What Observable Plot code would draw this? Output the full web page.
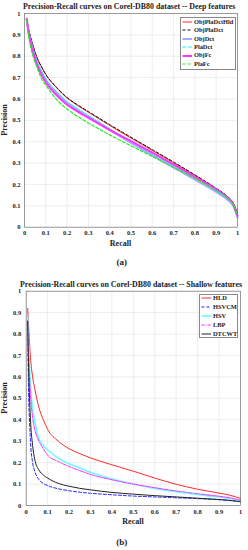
<!DOCTYPE html>
<html><head><meta charset="utf-8">
<script src="https://cdn.jsdelivr.net/npm/d3@7"></script>
<script src="https://cdn.jsdelivr.net/npm/@observablehq/plot@0.6"></script>
<style>
body{margin:0;background:#fff;}
#root{position:relative;width:248px;height:550px;overflow:hidden;font-family:"Liberation Serif",serif;font-weight:bold;color:#222;}
.abs{position:absolute;white-space:nowrap;}
.title{font-size:7.9px;line-height:1;}
.lab{font-size:8px;line-height:1;}
.cap{font-size:9px;line-height:1;}
.legend{position:absolute;background:#fff;border:0.6px solid #888;box-sizing:border-box;}
.legend .row{position:absolute;left:0;height:8px;display:flex;align-items:center;font-size:6.4px;line-height:1;}
svg.plot{position:absolute;left:0;}
</style></head><body><div id="root"></div>
<script>
// ---------- Data: (a) Deep features ----------
const recallDeep = [0.01, 0.02, 0.04, 0.06, 0.08, 0.1, 0.15, 0.2, 0.25, 0.3, 0.4, 0.5, 0.6, 0.7, 0.8, 0.9, 0.95, 0.98, 1.0];
const deepNames = ["ObjPlaDctHld", "ObjPlaDct", "ObjDct", "PlaDct", "ObjFc", "PlaFc"];
const ObjPlaDctHld = [0.975, 0.925, 0.85, 0.79, 0.75, 0.714, 0.653, 0.604, 0.569, 0.538, 0.476, 0.417, 0.359, 0.301, 0.242, 0.180, 0.145, 0.113, 0.068];
const ObjPlaDct    = [0.975, 0.925, 0.85, 0.79, 0.75, 0.715, 0.655, 0.607, 0.572, 0.541, 0.480, 0.421, 0.363, 0.305, 0.245, 0.182, 0.146, 0.113, 0.062];
const ObjDct       = [0.975, 0.912, 0.83, 0.766, 0.724, 0.689, 0.628, 0.581, 0.547, 0.516, 0.454, 0.394, 0.336, 0.279, 0.223, 0.165, 0.131, 0.099, 0.045];
const PlaDct       = [0.975, 0.915, 0.835, 0.772, 0.73, 0.695, 0.635, 0.588, 0.554, 0.523, 0.461, 0.401, 0.343, 0.286, 0.229, 0.170, 0.136, 0.104, 0.050];
const ObjFc        = [0.975, 0.905, 0.82, 0.756, 0.712, 0.678, 0.618, 0.573, 0.541, 0.512, 0.455, 0.403, 0.349, 0.293, 0.236, 0.177, 0.142, 0.108, 0.055];
const PlaFc        = [0.97, 0.89, 0.80, 0.745, 0.695, 0.665, 0.598, 0.553, 0.518, 0.488, 0.432, 0.381, 0.331, 0.280, 0.228, 0.172, 0.138, 0.106, 0.055];

// ---------- Data: (b) Shallow features ----------
const recallShallow = [0.007, 0.01, 0.02, 0.03, 0.04, 0.06, 0.08, 0.1, 0.15, 0.2, 0.25, 0.3, 0.4, 0.5, 0.6, 0.7, 0.8, 0.9, 0.95, 1.0];
const shallowNames = ["HLD", "HSVCM", "HSV", "LBP", "DTCWT"];
const HLD   = [0.92, 0.86, 0.69, 0.60, 0.545, 0.455, 0.40, 0.355, 0.30, 0.265, 0.242, 0.222, 0.19, 0.160, 0.128, 0.099, 0.076, 0.058, 0.048, 0.033];
const HSVCM = [0.85, 0.60, 0.30, 0.20, 0.16, 0.12, 0.103, 0.093, 0.078, 0.069, 0.062, 0.057, 0.050, 0.044, 0.040, 0.036, 0.032, 0.027, 0.023, 0.018];
const HSV   = [0.88, 0.78, 0.56, 0.45, 0.39, 0.31, 0.28, 0.26, 0.22, 0.195, 0.175, 0.155, 0.123, 0.100, 0.080, 0.064, 0.051, 0.040, 0.033, 0.023];
const LBP   = [0.86, 0.74, 0.52, 0.41, 0.355, 0.30, 0.265, 0.235, 0.205, 0.182, 0.163, 0.145, 0.120, 0.100, 0.083, 0.068, 0.055, 0.043, 0.036, 0.025];
const DTCWT = [0.86, 0.70, 0.40, 0.28, 0.215, 0.165, 0.142, 0.128, 0.103, 0.090, 0.080, 0.073, 0.061, 0.053, 0.046, 0.040, 0.034, 0.028, 0.024, 0.018];

const tickValues = [0, 0.1, 0.2, 0.3, 0.4, 0.5, 0.6, 0.7, 0.8, 0.9, 1];

// ---------- Styles ----------
const deepStyles = [
  {stroke: "#ff2a2a", strokeWidth: 1, dash: null},
  {stroke: "#111111", strokeWidth: 1, dash: "3,2"},
  {stroke: "#a9a9ff", strokeWidth: 2, dash: null},
  {stroke: "#00e5ff", strokeWidth: 1, dash: "3,1.2,0.8,1.2"},
  {stroke: "#ff33ff", strokeWidth: 2, dash: null},
  {stroke: "#22ee22", strokeWidth: 1.2, dash: "3,2"}
];
const shallowStyles = [
  {stroke: "#ff2a2a", strokeWidth: 1, dash: null},
  {stroke: "#2222ff", strokeWidth: 1, dash: "3,2"},
  {stroke: "#66ffff", strokeWidth: 1.6, dash: null},
  {stroke: "#ff22ff", strokeWidth: 1, dash: "3,1.2,0.8,1.2"},
  {stroke: "#222222", strokeWidth: 1, dash: null}
];

const root = document.getElementById("root");
const fmt = d => d === 0 ? "0" : d === 1 ? "1" : d.toFixed(1);

function chart({recall, names, values, styles, top, height, mt, mb, ml, mr, xPad, yPad}) {
  const marks = [
    Plot.gridX(tickValues, {stroke: "#e3e3e3", strokeOpacity: 1, strokeWidth: 0.6}),
    Plot.gridY(tickValues, {stroke: "#e3e3e3", strokeOpacity: 1, strokeWidth: 0.6}),
    Plot.axisX(tickValues, {tickSize: 0, tickPadding: xPad, tickFormat: fmt, label: null, fill: "#222"}),
    Plot.axisY(tickValues, {tickSize: 0, tickPadding: yPad, tickFormat: fmt, label: null, fill: "#222"})
  ];
  names.forEach((n, k) => {
    const rows = recall.map((r, i) => ({r, p: values[k][i]}));
    const s = styles[k];
    marks.push(Plot.line(rows, {x: "r", y: "p", stroke: s.stroke, strokeWidth: s.strokeWidth,
      strokeDasharray: s.dash || undefined, curve: "monotone-x"}));
  });
  marks.push(Plot.frame({stroke: "#777", strokeWidth: 0.7}));
  const svg = Plot.plot({
    width: 248, height,
    marginTop: mt, marginBottom: mb, marginLeft: ml, marginRight: mr,
    x: {domain: [0, 1]}, y: {domain: [0, 1]},
    style: {fontFamily: "'Liberation Serif', serif", fontSize: "6.5px", fontWeight: "bold", background: "transparent"},
    marks
  });
  svg.classList.add("plot");
  svg.style.top = top + "px";
  root.appendChild(svg);
}

function text(cls, str, x, y, extra) {
  const d = document.createElement("div");
  d.className = "abs " + cls;
  d.textContent = str;
  d.style.left = x + "px";
  d.style.top = y + "px";
  if (extra) Object.assign(d.style, extra);
  root.appendChild(d);
  return d;
}

function legend(names, styles, x, y, w, h, rowTop, rowStep, lineW) {
  const L = document.createElement("div");
  L.className = "legend";
  Object.assign(L.style, {left: x + "px", top: y + "px", width: w + "px", height: h + "px"});
  names.forEach((n, k) => {
    const s = styles[k];
    const row = document.createElement("div");
    row.className = "row";
    row.style.top = (rowTop + k * rowStep - 4) + "px";
    row.innerHTML = `<svg width="${lineW + 3}" height="8" style="display:block"><line x1="1.5" x2="${lineW + 1}" y1="4" y2="4" stroke="${s.stroke}" stroke-width="${s.strokeWidth}" ${s.dash ? `stroke-dasharray="${s.dash}"` : ""}/></svg><span>${n}</span>`;
    L.appendChild(row);
  });
  root.appendChild(L);
}

// (a)
chart({recall: recallDeep, names: deepNames,
  values: [ObjPlaDctHld, ObjPlaDct, ObjDct, PlaDct, ObjFc, PlaFc],
  styles: deepStyles, top: 0, height: 250, mt: 13, mb: 23.3, ml: 24, mr: 11, xPad: 3, yPad: 4});
text("title", "Precision-Recall curves on Corel-DB80 dataset -- Deep features", 23, 2.8);
text("lab", "Recall", 120.5, 239.5, {transform: "translateX(-50%)"});
text("lab", "Precision", 5, 120, {transform: "translate(-50%,-50%) rotate(-90deg)"});
text("cap", "(a)", 121.7, 257.5, {transform: "translateX(-50%)"});
legend(deepNames, deepStyles, 180, 16.7, 56, 53.5, 4.3, 8.4, 10);

// (b)
chart({recall: recallShallow, names: shallowNames,
  values: [HLD, HSVCM, HSV, LBP, DTCWT],
  styles: shallowStyles, top: 270, height: 270, mt: 20.7, mb: 35, ml: 25.7, mr: 8, xPad: 4, yPad: 5});
text("title", "Precision-Recall curves on Corel-DB80 dataset -- Shallow features", 20, 280.8);
text("lab", "Recall", 133, 518, {transform: "translateX(-50%)"});
text("lab", "Precision", 5, 398, {transform: "translate(-50%,-50%) rotate(-90deg)"});
text("cap", "(b)", 121.7, 537.5, {transform: "translateX(-50%)"});
legend(shallowNames, shallowStyles, 199, 294, 39, 44, 3.3, 8.9, 10);
</script></body></html>
